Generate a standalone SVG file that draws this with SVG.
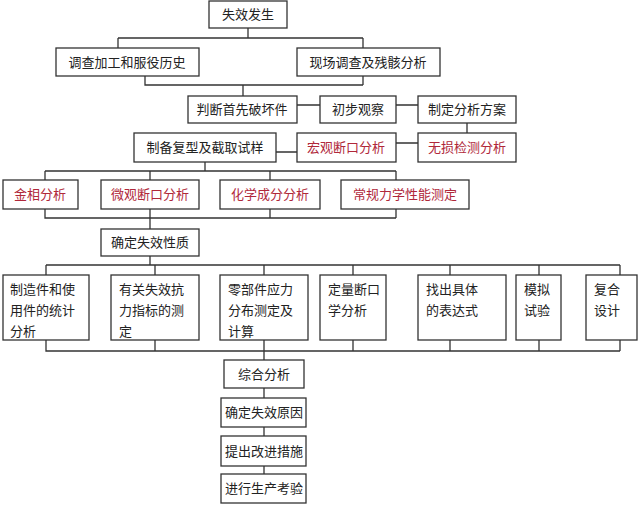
<svg xmlns="http://www.w3.org/2000/svg" width="640" height="505" viewBox="0 0 640 505">
<style>
rect{fill:#fff;stroke:#333;stroke-width:1.3}
text{font-family:"Noto Sans CJK SC",sans-serif;font-size:13px;fill:#222}
.c{text-anchor:middle}
.r{fill:#b0283a}
#conn path{fill:none;stroke:#333;stroke-width:1.3}
</style>
<rect x="0" y="0" width="640" height="505" style="fill:#fff;stroke:none"/>
<g id="conn">
<path d="M248 28V38M118 38H363M118 38V48M363 38V48"/>
<path d="M145 76V85H363M363 76V85M243 85V96"/>
<path d="M297 105H320M396 105H418M467 123V133"/>
<path d="M276 152H297M396 143H418"/>
<path d="M205 162V171M45 171H396M45 171V180M150 171V180M270 171V180M396 171V180"/>
<path d="M45 209V218H396M150 209V218M270 209V218M396 209V218M150 218V229"/>
<path d="M150 256V265M46 265H620M46 265V275M155 265V275M264 265V275M353 265V275M450 265V275M539 265V275M620 265V275"/>
<path d="M46 340V351H620M155 340V351M353 340V351M450 340V351M539 340V351M620 340V351M264 340V360"/>
<path d="M264 388V398M264 427V436M264 466V474"/>
</g>
<g id="n1"><rect x="209" y="1" width="78" height="27"/><text class="c" x="248" y="19">失效发生</text></g>
<g id="n2"><rect x="56" y="48" width="143" height="28"/><text class="c" x="127" y="67">调查加工和服役历史</text></g>
<g id="n3"><rect x="297" y="48" width="143" height="28"/><text class="c" x="368" y="67">现场调查及残骸分析</text></g>
<g id="n4"><rect x="188" y="96" width="109" height="27"/><text class="c" x="242" y="114">判断首先破坏件</text></g>
<g id="n5"><rect x="320" y="96" width="76" height="27"/><text class="c" x="358" y="114">初步观察</text></g>
<g id="n6"><rect x="418" y="96" width="98" height="27"/><text class="c" x="467" y="114">制定分析方案</text></g>
<g id="n7"><rect x="134" y="133" width="142" height="29"/><text class="c" x="205" y="152">制备复型及截取试样</text></g>
<g id="n8"><rect x="297" y="133" width="99" height="29"/><text class="c r" x="346" y="152">宏观断口分析</text></g>
<g id="n9"><rect x="418" y="133" width="98" height="29"/><text class="c r" x="467" y="152">无损检测分析</text></g>
<g id="n10"><rect x="3" y="180" width="75" height="29"/><text class="c r" x="40" y="199">金相分析</text></g>
<g id="n11"><rect x="101" y="180" width="98" height="29"/><text class="c r" x="150" y="199">微观断口分析</text></g>
<g id="n12"><rect x="220" y="180" width="100" height="29"/><text class="c r" x="270" y="199">化学成分分析</text></g>
<g id="n13"><rect x="341" y="180" width="128" height="29"/><text class="c r" x="405" y="199">常规力学性能测定</text></g>
<g id="n14"><rect x="101" y="229" width="98" height="27"/><text class="c" x="150" y="247">确定失效性质</text></g>
<g id="n15"><rect x="3" y="275" width="86" height="65"/><text x="10" y="294">制造件和使</text><text x="10" y="315">用件的统计</text><text x="10" y="336">分析</text></g>
<g id="n16"><rect x="111" y="275" width="88" height="65"/><text x="119" y="294">有关失效抗</text><text x="119" y="315">力指标的测</text><text x="119" y="336">定</text></g>
<g id="n17"><rect x="220" y="275" width="88" height="65"/><text x="228" y="294">零部件应力</text><text x="228" y="315">分布测定及</text><text x="228" y="336">计算</text></g>
<g id="n18"><rect x="320" y="275" width="66" height="65"/><text x="328" y="294">定量断口</text><text x="328" y="315">学分析</text></g>
<g id="n19"><rect x="418" y="275" width="88" height="65"/><text x="426" y="294">找出具体</text><text x="426" y="315">的表达式</text></g>
<g id="n20"><rect x="516" y="275" width="45" height="65"/><text x="524" y="294">模拟</text><text x="524" y="315">试验</text></g>
<g id="n21"><rect x="586" y="275" width="51" height="65"/><text x="594" y="294">复合</text><text x="594" y="315">设计</text></g>
<g id="n22"><rect x="224" y="360" width="80" height="28"/><text class="c" x="264" y="379">综合分析</text></g>
<g id="n23"><rect x="221" y="398" width="85" height="29"/><text class="c" x="264" y="417">确定失效原因</text></g>
<g id="n24"><rect x="221" y="436" width="85" height="30"/><text class="c" x="264" y="456">提出改进措施</text></g>
<g id="n25"><rect x="221" y="474" width="85" height="29"/><text class="c" x="264" y="493">进行生产考验</text></g>
</svg>
